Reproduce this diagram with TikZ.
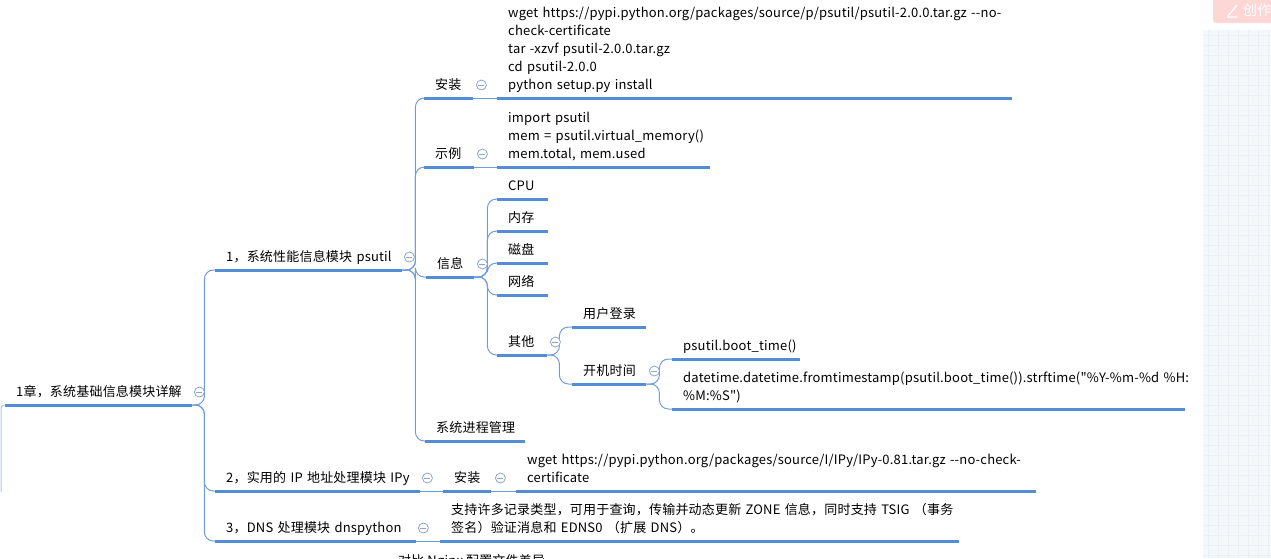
\documentclass[tikz,border=0pt]{standalone}
\usepackage{fontspec}
\usepackage{tikz}
\usetikzlibrary{calc}
\newfontfamily\mapfont[LetterSpace=1.5]{Noto Sans CJK SC}
\definecolor{mapline}{RGB}{84,141,212}
\definecolor{mapconn}{RGB}{112,156,222}
\definecolor{mapfold}{RGB}{140,165,210}
\definecolor{panel}{RGB}{245,248,251}
\definecolor{panelgrid}{RGB}{235,240,246}
\definecolor{btnpink}{RGB}{253,214,214}
\exhyphenpenalty=10000
\hyphenpenalty=10000

\begin{document}
\begin{tikzpicture}[x=1pt, y=-1pt, font=\mapfont\fontsize{13}{18}\selectfont]
\tikzset{
  uline/.style={draw=mapline, line width=3pt},
  conn/.style={draw=mapconn, line width=1pt, rounded corners=9pt},
  topic/.style={anchor=south west, align=left, inner xsep=11pt, inner ysep=3pt, text width=#1,
    execute at end node=\strut,
    append after command={(\tikzlastnode.south west) edge[uline] (\tikzlastnode.south east)}},
  foldmark/.style={circle, draw=mapfold, line width=0.8pt, minimum size=10pt, inner sep=0pt, fill=white,
    path picture={\draw[mapfold, line width=0.8pt] ([xshift=-3pt]path picture bounding box.center) -- ([xshift=3pt]path picture bounding box.center);}},
}
\clip (0,0) rectangle (1271,558);

% Side panel
\fill[panel] (1203,30) rectangle (1271,558);
\foreach \gx in {1208,1218,...,1268} \draw[panelgrid, line width=0.6pt] (\gx,30) -- (\gx,558);
\foreach \gy in {35,45,...,555} \draw[panelgrid, line width=0.6pt] (1203,\gy) -- (1271,\gy);
\fill[btnpink, rounded corners=3pt] (1213,-6) rectangle (1280,23);
\draw[white, line width=1.2pt] (1228,16) -- (1237,5) (1227,17) -- (1237,17);
\node[text=white, anchor=west, inner sep=0pt, font=\mapfont\fontsize{14}{14}\selectfont] (btnlabel) at (1243,10) {创作};

% Root
\node[topic=165pt] (chap) at (5,405) {1章，系统基础信息模块详解};
\coordinate (offmap) at (1,492);
\draw[conn, draw=mapconn!55, rounded corners=3pt] (offmap) |- (chap.south west);

% Chapters
\node[topic=165pt] (psutil) at (215,270) {1，系统性能信息模块~psutil};
\node[topic=183pt] (ipy) at (215,491) {2，实用的~IP~地址处理模块~IPy};
\node[topic=179pt] (dns) at (215,541) {3，DNS~处理模块~dnspython};
\draw[conn] (chap.south east) -- ++(12,0) |- (psutil.south west);
\draw[conn] (chap.south east) -- ++(12,0) |- (ipy.south west);
\draw[conn] (chap.south east) -- ++(12,0) |- (dns.south west);

% psutil
\node[topic=27pt] (inst) at (424,98) {安装};
\node[topic=28pt] (demo) at (424,167) {示例};
\node[topic=26pt] (info) at (426,277) {信息};
\node[topic=78pt] (proc) at (425,441) {系统进程管理};
\draw[conn] (psutil.south east) -- ++(13,0) |- (inst.south west);
\draw[conn] (psutil.south east) -- ++(13,0) |- (demo.south west);
\draw[conn] (psutil.south east) -- ++(13,0) |- (info.south west);
\draw[conn] (psutil.south east) -- ++(13,0) |- (proc.south west);

\node[topic=493pt] (instcmd) at (497,98) {wget https://pypi.python.org/packages/source/p/psutil/psutil-2.0.0.tar.gz~-{}-no-\\check-certificate\\tar -xzvf psutil-2.0.0.tar.gz\\cd psutil-2.0.0\\python setup.py install};
\node[topic=191pt] (democode) at (497,167) {import~psutil\\mem~=~psutil.virtual\_memory()\\mem.total,~mem.used};
\draw[conn] (inst.south east) -- (instcmd.south west);
\draw[conn] (demo.south east) -- (democode.south west);

% Info
\node[topic=29pt] (cpu) at (497,199) {CPU};
\node[topic=29pt] (mem) at (497,231) {内存};
\node[topic=29pt] (disk) at (497,263) {磁盘};
\node[topic=29pt] (net) at (497,295) {网络};
\node[topic=28pt] (other) at (497,355) {其他};
\draw[conn] (info.south east) -- ++(13,0) |- (cpu.south west);
\draw[conn] (info.south east) -- ++(13,0) |- (mem.south west);
\draw[conn] (info.south east) -- ++(13,0) |- (disk.south west);
\draw[conn] (info.south east) -- ++(13,0) |- (net.south west);
\draw[conn] (info.south east) -- ++(13,0) |- (other.south west);

\node[topic=52pt] (login) at (572,327) {用户登录};
\node[topic=52pt] (boot) at (572,384) {开机时间};
\draw[conn] (other.south east) -- ++(12,0) |- (login.south west);
\draw[conn] (other.south east) -- ++(12,0) |- (boot.south west);

\node[topic=106pt] (boottime) at (672,359) {psutil.boot\_time()};
\node[topic=491pt] (bootfmt) at (672,409) {datetime.datetime.fromtimestamp(psutil.boot\_time()).strftime("\%Y-\%m-\%d~\%H:\\\%M:\%S")};
\draw[conn] (boot.south east) -- ++(13,0) |- (boottime.south west);
\draw[conn] (boot.south east) -- ++(13,0) |- (bootfmt.south west);

% IPy
\node[topic=26pt] (ipyinst) at (443,491) {安装};
\node[topic=498pt] (ipycmd) at (516,491) {wget https://pypi.python.org/packages/source/I/IPy/IPy-0.81.tar.gz~-{}-no-check-\\certificate};
\draw[conn] (ipy.south east) -- (ipyinst.south west);
\draw[conn] (ipyinst.south east) -- (ipycmd.south west);

% DNS
\node[topic=497pt] (dnsdesc) at (440,541) {支持许多记录类型，可用于查询，传输并动态更新~ZONE~信息，同时支持~TSIG~（事务\\签名）验证消息和~EDNS0~（扩展~DNS）。};
\draw[conn] (dns.south east) -- (dnsdesc.south west);

\node[anchor=base west, inner sep=0pt] (nginx) at (398,565) {对比~Nginx~配置文件差异};

% Fold marks
\node[foldmark] (chapf) at ([xshift=7pt,yshift=13pt]chap.south east) {};
\node[foldmark] (psutilf) at ([xshift=7pt,yshift=13pt]psutil.south east) {};
\node[foldmark] (instf) at ([xshift=8pt,yshift=13pt]inst.south east) {};
\node[foldmark] (demof) at ([xshift=8pt,yshift=13pt]demo.south east) {};
\node[foldmark] (infof) at ([xshift=8pt,yshift=13pt]info.south east) {};
\node[foldmark] (otherf) at ([xshift=8pt,yshift=13pt]other.south east) {};
\node[foldmark] (bootf) at ([xshift=8pt,yshift=13pt]boot.south east) {};
\node[foldmark] (ipyf) at ([xshift=7pt,yshift=13pt]ipy.south east) {};
\node[foldmark] (ipyinstf) at ([xshift=9pt,yshift=13pt]ipyinst.south east) {};
\node[foldmark] (dnsf) at ([xshift=7pt,yshift=13pt]dns.south east) {};

\end{tikzpicture}
\end{document}
